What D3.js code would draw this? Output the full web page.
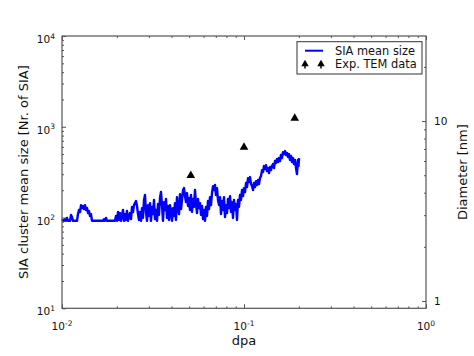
<!DOCTYPE html>
<html><head><meta charset="utf-8">
<script src="https://cdn.jsdelivr.net/npm/d3@7/dist/d3.min.js"></script>
<style>body{margin:0;background:#fff}svg{display:block}text{font-family:"DejaVu Sans",sans-serif;fill:#111}</style>
</head><body>
<script>
// ---- data ----
const dpa = [0.0100,0.01013,0.01026,0.01039,0.01052,0.01065,0.01079,0.01107,0.01121,0.01135,0.01149,0.01209,0.01224,0.01240,0.01256,0.01272,0.01288,0.01304,0.01321,0.01338,0.01355,0.01372,0.01390,0.01407,0.01425,0.01443,0.01462,0.01680,0.01701,0.01723,0.01745,0.01767,0.01955,
0.01980,0.02005,0.02031,0.02057,0.02083,0.02110,0.02136,0.02164,0.02191,0.02219,0.02247,0.02276,0.02305,0.02334,0.02364,0.02394,0.02425,0.02455,0.02487,0.02518,0.02550,0.02583,0.02616,0.02649,0.02683,0.02717,0.02752,0.02786,0.02822,0.02858,0.02894,0.02931,0.02969,0.03006,0.03045,0.03083,0.03123,0.03162,0.03203,0.03243,0.03285,0.03327,0.03369,0.03412,0.03455,0.03499,0.03544,0.03589,0.03635,0.03681,0.03728,0.03775,0.03823,0.03872,
0.03921,0.03971,0.04022,0.04073,0.04125,0.04177,0.04230,0.04284,0.04339,0.04394,0.04450,0.04507,0.04564,0.04622,0.04681,0.04741,0.04801,0.04862,0.04924,0.04987,0.05050,0.05115,0.05180,0.05246,0.05312,0.05380,0.05449,0.05518,0.05588,0.05659,0.05731,0.05804,0.05878,0.05953,0.06029,0.06106,0.06183,0.06262,0.06342,0.06423,0.06504,0.06587,0.06671,0.06756,0.06842,0.06929,0.07017,0.07107,0.07198,0.07289,0.07382,0.07476,0.07571,0.07667,0.07765,0.07864,0.07964,0.08065,0.08168,0.08272,0.08377,0.08484,0.08592,0.08701,0.08812,0.08924,0.09038,0.09153,0.09270,0.09388,
0.09507,0.09628,0.09751,0.09875,0.1000,0.1013,0.1026,0.1039,0.1052,0.1065,0.1079,0.1093,0.1107,0.1121,0.1135,0.1149,0.1164,0.1179,0.1194,0.1209,0.1224,0.1240,0.1256,0.1272,0.1288,0.1304,0.1321,0.1338,0.1355,0.1372,0.1390,0.1407,0.1425,0.1443,0.1462,0.1480,0.1499,0.1518,0.1538,0.1557,0.1577,0.1597,0.1617,0.1638,0.1659,0.1680,0.1701,0.1723,0.1745,0.1767,0.1790,0.1813,0.1836,0.1859,0.1883,0.1907,0.1931,0.1955,0.1980,0.1993,0.2006];
const meanSize = [92,94,92,96,92,99,92,92,107,101,92,92,109,121,115,137,127,134,124,137,121,127,112,118,104,109,92,92,96,92,99,92,92,
104,92,115,94,112,92,107,121,92,109,94,118,92,104,112,96,131,115,137,144,152,134,109,94,115,92,127,99,156,177,115,92,137,104,144,92,131,109,156,96,121,92,141,107,164,191,137,92,148,121,160,99,134,94,
137,115,92,127,104,144,94,168,127,109,181,124,156,201,211,172,148,186,134,164,121,177,115,160,131,201,141,112,160,127,144,107,134,96,121,92,131,104,152,124,168,137,186,222,201,228,177,211,156,137,168,109,152,121,168,101,137,112,160,127,172,115,148,99,156,121,141,94,156,131,
177,156,201,172,211,191,240,217,272,246,279,234,222,201,240,217,252,228,259,234,272,286,333,317,369,342,378,325,351,309,360,333,369,388,351,419,398,441,408,452,419,488,452,526,500,540,488,513,464,500,430,476,408,452,388,430,351,301,430,369,452];

const temDpa = [0.051, 0.1, 0.19];
const temSize = [290, 595, 1240];

const xMajor = [0.01, 0.1, 1];
const xMajorExp = ["-2", "-1", "0"];
const yMajor = [10, 100, 1000, 10000];
const yMajorExp = ["1", "2", "3", "4"];
const rMajor = [1, 10];
const rMajorLabels = ["1", "10"];

const seriesName = "SIA mean size";
const tmName = "Exp. TEM data";

// ---- drawing ----
const W = 474, H = 356;
const L = 62, R = 426, T = 36, B = 308.3;
const svg = d3.select("body").append("svg").attr("width", W).attr("height", H);

const x = d3.scaleLog().domain([0.01, 1]).range([L, R]);
const y = d3.scaleLog().domain([10, 10000]).range([B, T]);
const yR = d3.scaleLog().domain([0.911, 29.7]).range([B, T]);

const line = d3.line().x((d, i) => x(dpa[i])).y((d, i) => y(meanSize[i]));
svg.append("path").datum(meanSize).attr("d", line)
  .attr("fill", "none").attr("stroke", "#0000ff").attr("stroke-width", 2.4).attr("stroke-linejoin", "round");

svg.selectAll("path.tem").data(temDpa).join("path").attr("class", "tem")
  .attr("transform", (d, i) => `translate(${x(d)},${y(temSize[i])})`)
  .attr("d", d3.symbol(d3.symbolTriangle, 32)).attr("fill", "#000");

const axColor = "#555";
function drawAxis(gen, tx, ty) {
  const g = svg.append("g").attr("transform", `translate(${tx},${ty})`).call(gen);
  g.select(".domain").remove();
  g.selectAll("line").attr("stroke", axColor);
  g.selectAll("text").remove();
}
const isMajor = (v, arr) => arr.some(m => Math.abs(v / m - 1) < 1e-6);
const xMinor = x.ticks().filter(v => !isMajor(v, xMajor));
const yMinor = y.ticks().filter(v => !isMajor(v, yMajor));
const rMinor = yR.ticks().filter(v => !isMajor(v, rMajor));

drawAxis(d3.axisBottom(x).tickValues(xMajor).tickSize(-4).tickFormat(""), 0, B);
drawAxis(d3.axisBottom(x).tickValues(xMinor).tickSize(-2).tickFormat(""), 0, B);
drawAxis(d3.axisTop(x).tickValues(xMajor).tickSize(-4).tickFormat(""), 0, T);
drawAxis(d3.axisTop(x).tickValues(xMinor).tickSize(-2).tickFormat(""), 0, T);
drawAxis(d3.axisLeft(y).tickValues(yMajor).tickSize(-4).tickFormat(""), L, 0);
drawAxis(d3.axisLeft(y).tickValues(yMinor).tickSize(-2).tickFormat(""), L, 0);
drawAxis(d3.axisRight(yR).tickValues(rMajor).tickSize(-4).tickFormat(""), R, 0);
drawAxis(d3.axisRight(yR).tickValues(rMinor).tickSize(-2).tickFormat(""), R, 0);

svg.append("rect").attr("x", L).attr("y", T).attr("width", R - L).attr("height", B - T)
  .attr("fill", "none").attr("stroke", axColor).attr("stroke-width", 1.2);

// tick labels
const xl = svg.selectAll("text.xl").data(xMajor).join("text").attr("class", "xl")
  .attr("x", d => x(d)).attr("y", 330).attr("text-anchor", "middle").attr("font-size", 10.5);
xl.append("tspan").text("10");
xl.append("tspan").attr("dy", -4.5).attr("font-size", 7.5).text((d, i) => xMajorExp[i]);

const yl = svg.selectAll("text.yl").data(yMajor).join("text").attr("class", "yl")
  .attr("x", 55).attr("y", d => y(d) + 7).attr("text-anchor", "end").attr("font-size", 10.5);
yl.append("tspan").text("10");
yl.append("tspan").attr("dy", -4.5).attr("font-size", 7.5).text((d, i) => yMajorExp[i]);

svg.selectAll("text.rl").data(rMajor).join("text").attr("class", "rl")
  .attr("x", 434).attr("y", d => yR(d) + 4).attr("font-size", 10.5).text((d, i) => rMajorLabels[i]);

// axis titles
svg.append("text").attr("x", (L + R) / 2).attr("y", 345).attr("text-anchor", "middle").attr("font-size", 13).text("dpa");
svg.append("text").attr("transform", `translate(28,${(T + B) / 2}) rotate(-90)`).attr("text-anchor", "middle")
  .attr("font-size", 13).text("SIA cluster mean size [Nr. of SIA]");
svg.append("text").attr("transform", `translate(467,${(T + B) / 2}) rotate(-90)`).attr("text-anchor", "middle")
  .attr("font-size", 13).text("Diameter [nm]");

// legend
const lg = svg.append("g");
lg.append("rect").attr("x", 297).attr("y", 41.7).attr("width", 125).attr("height", 32.3)
  .attr("fill", "#fff").attr("stroke", "#333").attr("stroke-width", 1);
lg.append("line").attr("x1", 305).attr("x2", 323).attr("y1", 50.7).attr("y2", 50.7)
  .attr("stroke", "#0000ff").attr("stroke-width", 2);
lg.append("text").attr("x", 335).attr("y", 55).attr("font-size", 11.4).text(seriesName);
[305, 321].forEach(cx => {
  lg.append("line").attr("x1", cx).attr("x2", cx).attr("y1", 64).attr("y2", 68.5).attr("stroke", "#000").attr("stroke-width", 1.5);
  lg.append("path").attr("transform", `translate(${cx},64)`).attr("d", d3.symbol(d3.symbolTriangle, 24)).attr("fill", "#000");
});
lg.append("text").attr("x", 335).attr("y", 67.5).attr("font-size", 11.4).text(tmName);
</script>
</body></html>
